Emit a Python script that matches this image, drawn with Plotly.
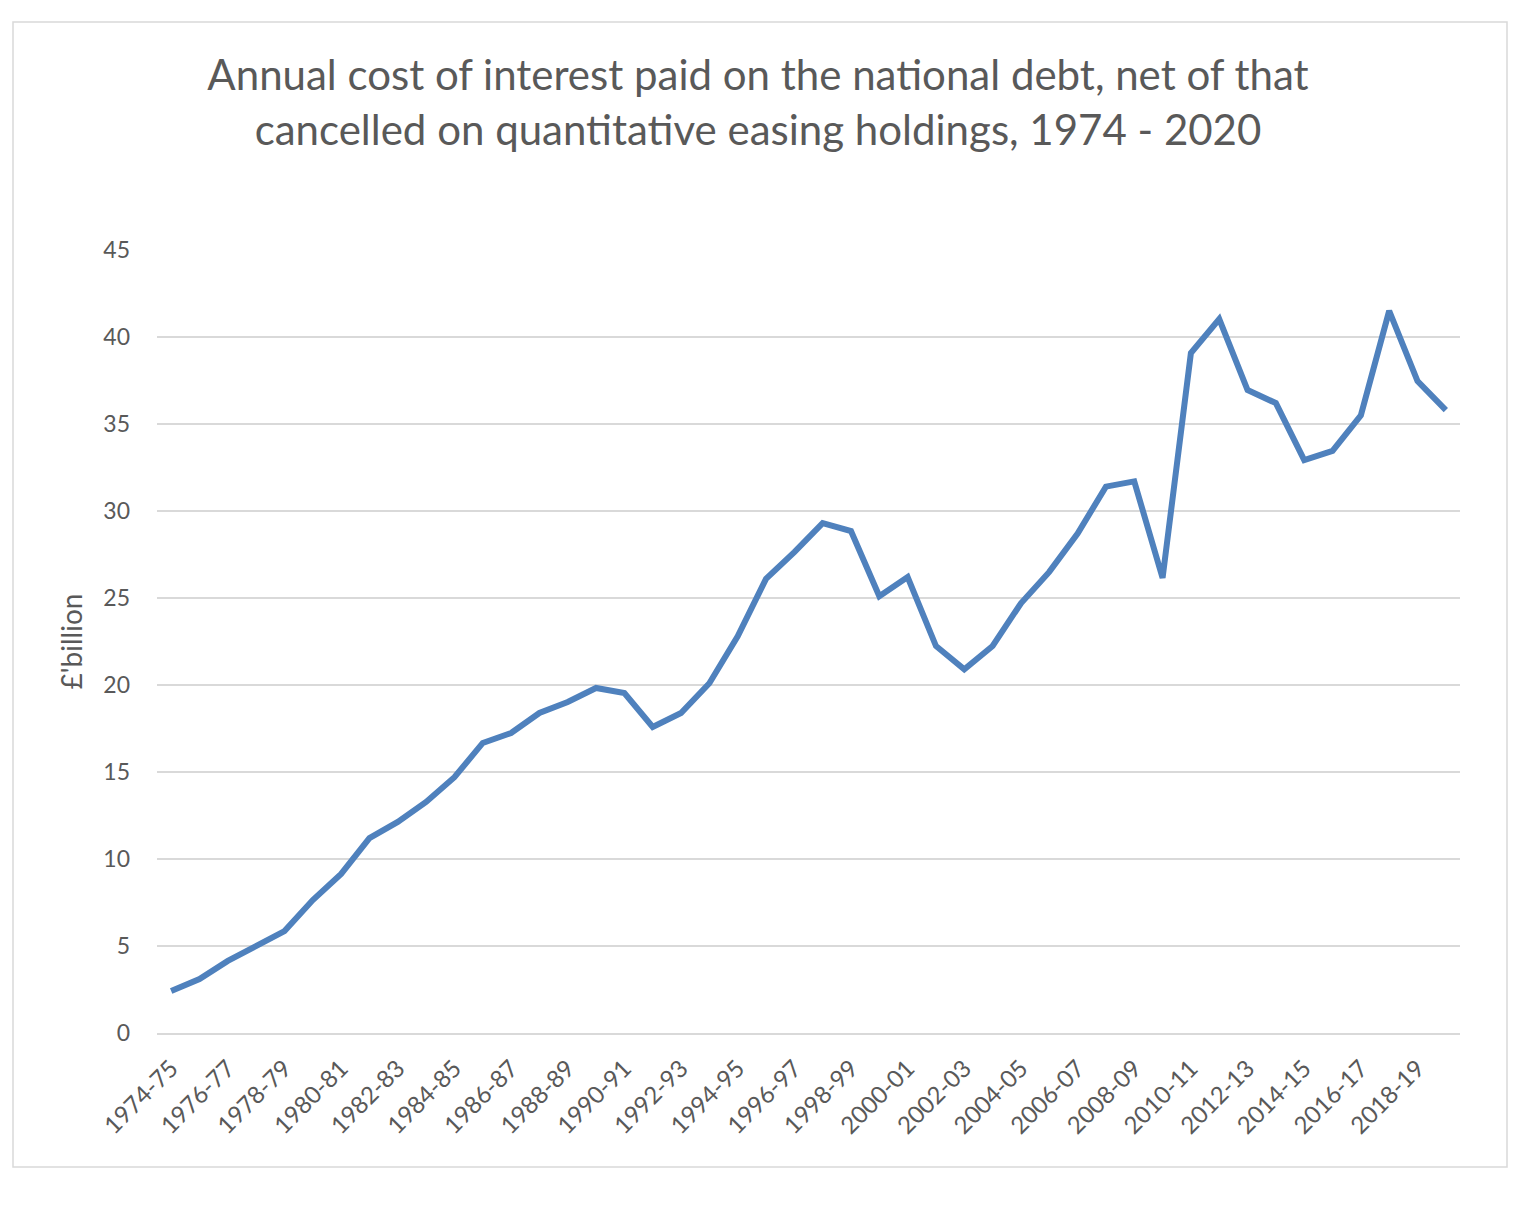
import plotly.graph_objects as go

years = [f"{y}-{str(y+1)[-2:]}" for y in range(1974, 2020)]
values = [2.41, 3.1, 4.14, 5.0, 5.86, 7.64, 9.14, 11.2, 12.13, 13.28,
          14.7, 16.67, 17.24, 18.39, 19.02, 19.83, 19.54, 17.59, 18.39, 20.1,
          22.8, 26.1, 27.64, 29.3, 28.85, 25.1, 26.2, 22.24, 20.9, 22.24,
          24.7, 26.5, 28.7, 31.4, 31.7, 26.15, 39.08, 41.03, 36.95, 36.2,
          32.93, 33.45, 35.5, 41.5, 37.47, 35.8]
y_ticks = [0, 5, 10, 15, 20, 25, 30, 35, 40, 45]
x_ticks = years[::2]

FONT = "Lato"
GREY = "#595959"

fig = go.Figure()
fig.add_trace(go.Scatter(x=years, y=values, mode="lines",
                         line=dict(color="#4F81BD", width=6),
                         hoverinfo="x+y"))

L, R, T, B = 157, 76, 250, 198
W, H = 1536, 1231
pw, ph = W - L - R, H - T - B

fig.update_layout(
    width=W, height=H,
    margin=dict(l=L, r=R, t=T, b=B, pad=0),
    paper_bgcolor="white", plot_bgcolor="white",
    showlegend=False,
    font=dict(family=FONT, color=GREY),
    title=dict(text="Annual cost of interest paid on the national debt, net of that<br>cancelled on quantitative easing holdings, 1974 - 2020",
               x=758 / W, xanchor="center", xref="container",
               y=1 - 90 / H, yanchor="middle", yref="container",
               font=dict(size=42, color=GREY, family=FONT)),
    xaxis=dict(type="category", categoryorder="array", categoryarray=years,
               range=[-0.5, 45.5], tickvals=x_ticks, ticktext=x_ticks,
               tickangle=-45, tickfont=dict(size=24, color=GREY),
               ticklabelstandoff=10,
               showgrid=False, showline=True, linecolor="#d9d9d9", linewidth=1.5,
               ticks="", zeroline=False),
    yaxis=dict(range=[0, 45], tickvals=y_ticks, showgrid=True,
               gridcolor="#d9d9d9", gridwidth=1.5, zeroline=False,
               tickfont=dict(size=23, color=GREY), ticks="",
               ticklabelstandoff=26,
               title=dict(text="£'billion", font=dict(size=28, color=GREY), standoff=12)),
    shapes=[dict(type="rect", xref="paper", yref="paper",
                 x0=(13 - L) / pw, x1=(1507 - L) / pw,
                 y0=(H - B - 1167) / ph, y1=(H - B - 22) / ph,
                 line=dict(color="#d9d9d9", width=1.5), fillcolor="rgba(0,0,0,0)",
                 layer="below")],
)

fig.write_html("out.html")
